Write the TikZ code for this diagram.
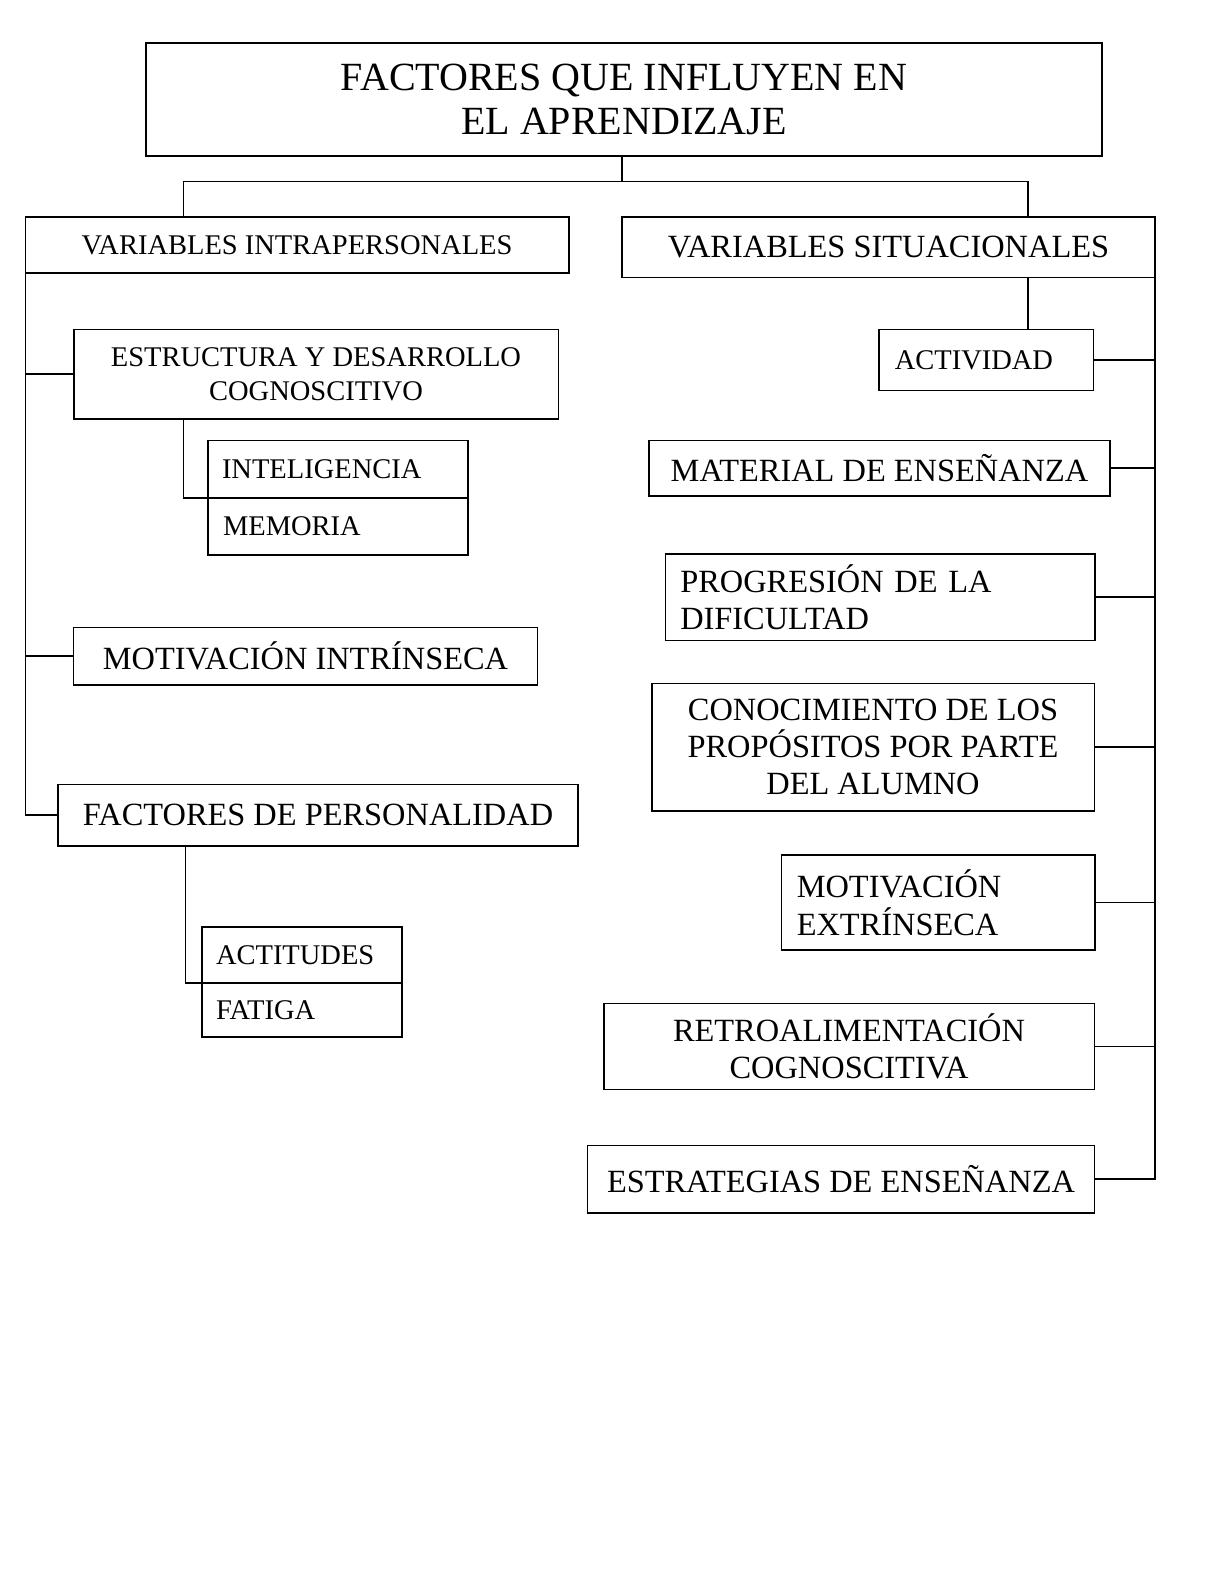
\documentclass[tikz,border=0pt]{standalone}
\usepackage{fontspec}
\setmainfont{Liberation Serif}
\begin{document}
\begin{tikzpicture}[x=1pt,y=-1pt]
\tikzset{
  box/.style={draw=black, line width=1.5pt, rectangle, outer sep=0pt, inner xsep=4pt, inner ysep=2pt, align=center, text=black},
  big/.style={font=\fontsize{32.4}{37}\selectfont},
  small/.style={font=\fontsize{28.5}{34}\selectfont},
  conn/.style={line width=1.5pt, draw=black},
}
\useasboundingbox (0,0) rectangle (1224,1596);
% title
\node[box, font=\fontsize{40}{44}\selectfont, minimum width=956pt, minimum height=113pt] (T) at (624,99.5) {FACTORES QUE INFLUYEN EN\\EL APRENDIZAJE};
% main branches
\node[box, small, minimum width=543.5pt, minimum height=56pt] (VI) at (297,245) {VARIABLES INTRAPERSONALES};
\node[box, big, minimum width=533pt, minimum height=60.5pt] (VS) at (888.5,247) {VARIABLES SITUACIONALES};
% left side
\node[box, small, minimum width=484.5pt, minimum height=89.5pt] (EST) at (316,374) {ESTRUCTURA Y DESARROLLO\\COGNOSCITIVO};
\node[box, small, align=left, inner xsep=14pt, text width=232pt, minimum height=57.5pt] (INT) at (338,469) {INTELIGENCIA};
\node[box, small, align=left, inner xsep=15pt, text width=230pt, minimum height=57pt] (MEM) at (338,526.5) {MEMORIA};
\node[box, big, minimum width=464pt, minimum height=57.5pt] (MI) at (305.5,656) {MOTIVACIÓN INTRÍNSECA};
\node[box, big, minimum width=520pt, minimum height=61.5pt] (FP) at (318,815) {FACTORES DE PERSONALIDAD};
\node[box, small, align=left, inner xsep=14pt, text width=172pt, minimum height=56pt] (ACT) at (302,955) {ACTITUDES};
\node[box, small, align=left, inner xsep=14pt, text width=172pt, minimum height=54pt] (FAT) at (302,1010) {FATIGA};
% right side
\node[box, small, align=left, inner xsep=16pt, text width=182.5pt, minimum height=61pt] (ACTV) at (986,360) {ACTIVIDAD};
\node[box, big, minimum width=461pt, minimum height=55.5pt] (MAT) at (879.5,468) {MATERIAL DE ENSEÑANZA};
\node[box, big, align=left, inner xsep=15pt, text width=399.5pt, minimum height=86.5pt] (PRO) at (880,597) {PROGRESIÓN DE LA\\DIFICULTAD};
\node[box, big, minimum width=442.5pt, minimum height=127.5pt] (CON) at (873,747) {CONOCIMIENTO DE LOS\\PROPÓSITOS POR PARTE\\DEL ALUMNO};
\node[box, big, align=left, inner xsep=15.5pt, text width=282.5pt, minimum height=95pt, font=\fontsize{32.4}{38}\selectfont] (MEX) at (938,902.5) {MOTIVACIÓN\\EXTRÍNSECA};
\node[box, big, minimum width=490.5pt, minimum height=86pt] (RET) at (849,1046.5) {RETROALIMENTACIÓN\\COGNOSCITIVA};
\node[box, big, minimum width=507pt, minimum height=67.5pt] (ESTR) at (841,1179) {ESTRATEGIAS DE ENSEÑANZA};
% connectors
\coordinate (jT) at (622,181.5);
\coordinate (jL) at (183.5,181.5);
\coordinate (jR) at (1028,181.5);
\coordinate (jF) at (185.5,0);
\draw[conn] (T.south -| jT) -- (jT);
\draw[conn] (VI.north -| jL) -- (jL) -- (jR) -- (VS.north -| jR);
\draw[conn] (VI.south west) |- (FP.west);
\draw[conn] (VI.south west |- EST.west) -- (EST.west);
\draw[conn] (VI.south west |- MI.west) -- (MI.west);
\draw[conn] (EST.south -| jL) |- (INT.south east);
\draw[conn] (FP.south -| jF) |- (ACT.south east);
\draw[conn] (VS.south -| jR) -- (ACTV.north -| jR);
\draw[conn] (VS.south east) |- (ESTR.east);
\foreach \n in {ACTV,MAT,PRO,CON,MEX,RET}
  \draw[conn] (\n.east) -- (\n.east -| VS.east);
\end{tikzpicture}
\end{document}
